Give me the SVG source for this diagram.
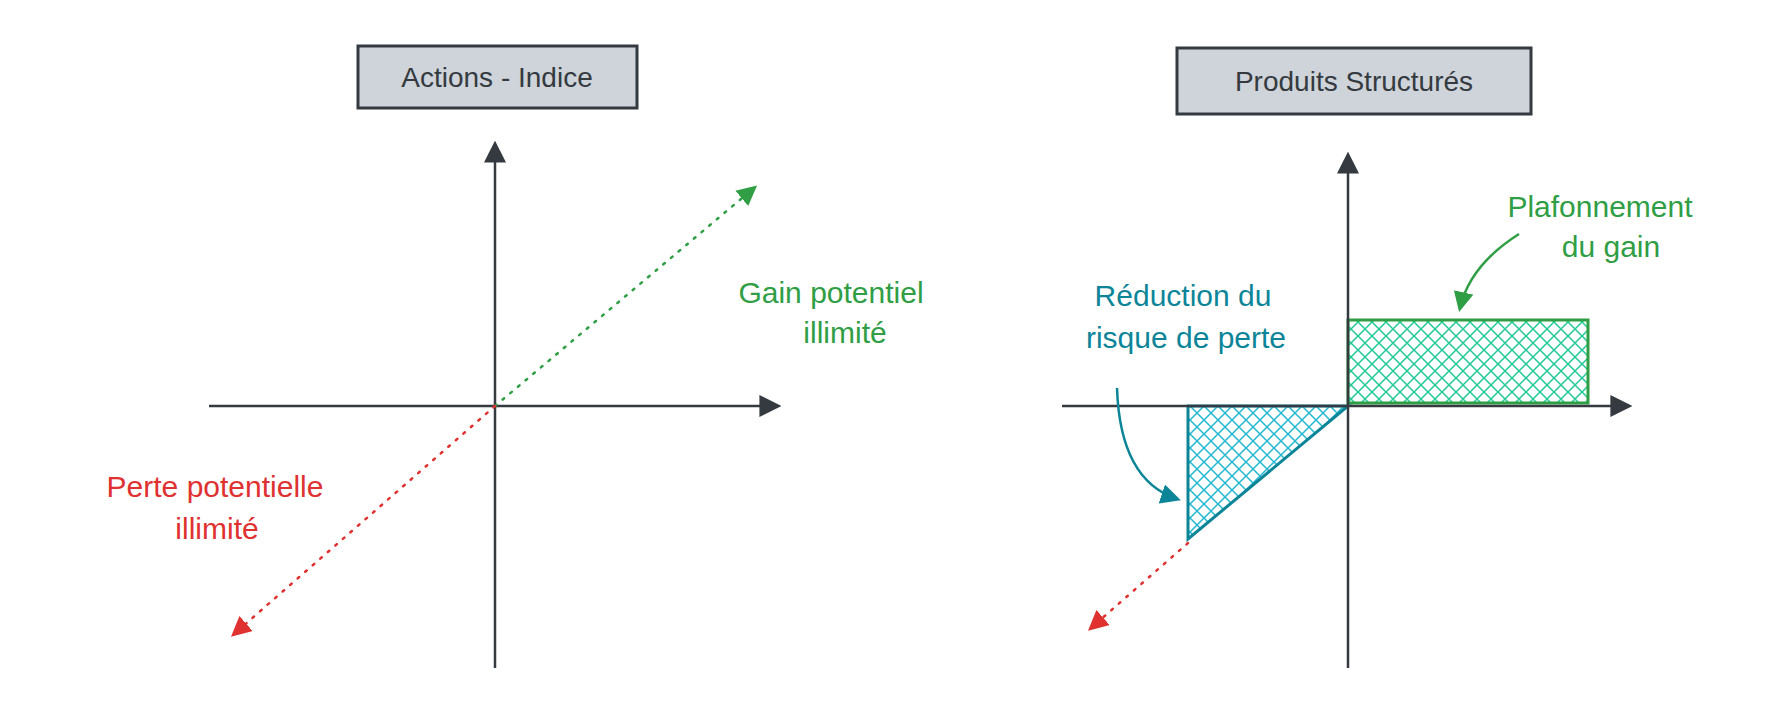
<svg xmlns="http://www.w3.org/2000/svg" width="1782" height="714" viewBox="0 0 1782 714">
<style>
text{font-family:"Liberation Sans","DejaVu Sans",sans-serif;font-size:30px}
.ax{stroke:#343a40;stroke-width:2.5;fill:none}
.title{fill:#343a40;text-anchor:middle;font-size:28px}
.g{fill:#2f9e44}.r{fill:#e03131}.b{fill:#0c8599}
</style>
<defs>
<marker id="ak" viewBox="0 0 10 10" refX="8" refY="5" markerWidth="22" markerHeight="22" orient="auto" markerUnits="userSpaceOnUse"><path d="M0,0L10,5L0,10z" fill="#343a40"/></marker>
<marker id="ag" viewBox="0 0 10 10" refX="8" refY="5" markerWidth="8" markerHeight="8" orient="auto"><path d="M0,0L10,5L0,10z" fill="#2f9e44"/></marker>
<marker id="ar" viewBox="0 0 10 10" refX="8" refY="5" markerWidth="8" markerHeight="8" orient="auto"><path d="M0,0L10,5L0,10z" fill="#e03131"/></marker>
<marker id="ab" viewBox="0 0 10 10" refX="8" refY="5" markerWidth="8" markerHeight="8" orient="auto"><path d="M0,0L10,5L0,10z" fill="#0c8599"/></marker>
<pattern id="hg" width="14" height="14" patternUnits="userSpaceOnUse"><path d="M0,0L14,14M14,0L0,14" stroke="#20c997" stroke-width="1.5"/></pattern>
<pattern id="hb" width="14" height="14" patternUnits="userSpaceOnUse"><path d="M0,0L14,14M14,0L0,14" stroke="#22b8cf" stroke-width="1.5"/></pattern>
</defs>
<g id="title-actions"><rect x="358" y="46" width="279" height="62" fill="#ced4da" stroke="#343a40" stroke-width="3"/><text class="title" x="497" y="87">Actions - Indice</text></g>
<g id="title-produits"><rect x="1177" y="48" width="354" height="66" fill="#ced4da" stroke="#343a40" stroke-width="3"/><text class="title" x="1354" y="91">Produits Structurés</text></g>
<g id="rect-gain"><rect x="1348" y="320" width="240" height="83" fill="url(#hg)" stroke="#2f9e44" stroke-width="3"/></g>
<g id="tri-perte"><path d="M1188,406L1348,406L1188,539Z" fill="url(#hb)" stroke="#0c8599" stroke-width="3"/></g>
<g id="connectors">
<path class="ax" d="M495,668L495,145" marker-end="url(#ak)"/>
<path class="ax" d="M209,406L777,406" marker-end="url(#ak)"/>
<path d="M495,406L754,188" stroke="#2f9e44" stroke-width="2.5" stroke-dasharray="2 8" stroke-linecap="round" fill="none" marker-end="url(#ag)"/>
<path d="M495,406L234,634" stroke="#e03131" stroke-width="2.5" stroke-dasharray="2 8" stroke-linecap="round" fill="none" marker-end="url(#ar)"/>
<path class="ax" d="M1348,668L1348,156" marker-end="url(#ak)"/>
<path class="ax" d="M1062,406L1628,406" marker-end="url(#ak)"/>
<path d="M1188,543L1091,628" stroke="#e03131" stroke-width="2.5" stroke-dasharray="2 8" stroke-linecap="round" fill="none" marker-end="url(#ar)"/>
<path d="M1519,234Q1470,265 1460,308" stroke="#2f9e44" stroke-width="2.5" fill="none" marker-end="url(#ag)"/>
<path d="M1117,388Q1120,480 1177,499" stroke="#0c8599" stroke-width="2.5" fill="none" marker-end="url(#ab)"/>
</g>
<g id="labels">
<text class="g" x="831" y="303" text-anchor="middle">Gain potentiel</text>
<text class="g" x="845" y="343" text-anchor="middle">illimité</text>
<text class="r" x="215" y="497" text-anchor="middle">Perte potentielle</text>
<text class="r" x="217" y="539" text-anchor="middle">illimité</text>
<text class="g" x="1600" y="217" text-anchor="middle">Plafonnement</text>
<text class="g" x="1611" y="257" text-anchor="middle">du gain</text>
<text class="b" x="1183" y="306" text-anchor="middle">Réduction du</text>
<text class="b" x="1186" y="348" text-anchor="middle">risque de perte</text>
</g>
</svg>
